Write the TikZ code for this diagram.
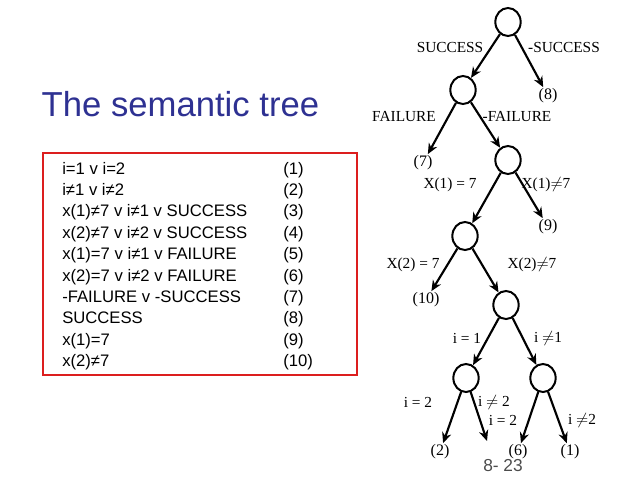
\documentclass[tikz,border=0pt]{standalone}
\usepackage{fontspec}
\setmainfont{Liberation Serif}
\newfontfamily\sansf{Liberation Sans}
\usetikzlibrary{arrows.meta,shapes.geometric}
\definecolor{titleblue}{RGB}{46,49,146}
\definecolor{boxred}{RGB}{220,30,30}
\begin{document}
\begin{tikzpicture}[x=0.75pt,y=-0.75pt,
  st/.style={draw,ellipse,minimum width=19pt,minimum height=21pt,inner sep=0pt,line width=1.5pt},
  leaf/.style={font=\fontsize{12}{13}\selectfont,inner sep=1pt},
  lab/.style={font=\fontsize{11.5}{13}\selectfont,inner sep=0pt},
  ar/.style={-{Stealth[length=8pt,width=7pt]},line width=1.6pt},
  row/.style={font=\sansf\fontsize{12.5}{14}\selectfont,anchor=base west,inner sep=0pt}]
\useasboundingbox (0,0) rectangle (638,478);
\node[font=\sansf\fontsize{26}{28}\selectfont,text=titleblue,anchor=west] (title) at (37,104) {The semantic tree};
\draw[boxred,line width=1pt] (43,153) rectangle (357,375);
\foreach \t/\n [count=\k] in {i=1 v i=2/(1), i≠1 v i≠2/(2), x(1)≠7 v i≠1 v SUCCESS/(3), x(2)≠7 v i≠2 v SUCCESS/(4), x(1)=7 v i≠1 v FAILURE/(5), x(2)=7 v i≠2 v FAILURE/(6), -FAILURE v -SUCCESS/(7), SUCCESS/(8), x(1)=7/(9), x(2)≠7/(10)}{
  \node[row] (r\k) at (62,{174+21.4*(\k-1)}) {\t};
  \node[row] (n\k) at (283,{174+21.4*(\k-1)}) {\n};
}
\node[st] (a) at (508,22) {};
\node[st] (b) at (463,90) {};
\node[st] (c) at (508,160) {};
\node[st] (d) at (465,236) {};
\node[st] (e) at (506,305) {};
\node[st] (f) at (466,378) {};
\node[st] (g) at (543,378) {};
\node[leaf] (l8) at (548,96) {(8)};
\node[leaf] (l7) at (423,163) {(7)};
\node[leaf] (l9) at (548,227) {(9)};
\node[leaf] (l10) at (426,300) {(10)};
\node[leaf] (l2) at (440,452) {(2)};
\node[leaf] (l6) at (518,452) {(6)};
\node[leaf] (l1) at (570,452) {(1)};
\coordinate (x) at (487,441);
\draw[ar] (a) -- (b); \draw[ar] (a) -- (l8);
\draw[ar] (b) -- (l7); \draw[ar] (b) -- (c);
\draw[ar] (c) -- (d); \draw[ar] (c) -- (l9);
\draw[ar] (d) -- (l10); \draw[ar] (d) -- (e);
\draw[ar] (e) -- (f); \draw[ar] (e) -- (g);
\draw[ar] (f) -- (l2); \draw[ar] (f) -- (x);
\draw[ar] (g) -- (l6); \draw[ar] (g) -- (l1);
\node[lab] at (450,47) {SUCCESS};
\node[lab] at (564,47) {-SUCCESS};
\node[lab] at (404,117) {FAILURE};
\node[lab] at (517,117) {-FAILURE};
\node[lab] at (450,185) {X(1) = 7};
\node[lab] at (546,185) {X(1)$\neq$7};
\node[lab] at (413,265) {X(2) = 7};
\node[lab] at (532,265) {X(2)$\neq$7};
\node[lab] at (467,338) {i = 1};
\node[lab] at (548,338) {i $\neq$1};
\node[lab] at (418,402) {i = 2};
\node[lab] at (494,402) {i $\neq$ 2};
\node[lab] at (503,420) {i = 2};
\node[lab] at (582,420) {i $\neq$2};
\node[font=\sansf\fontsize{13}{14}\selectfont,text=black!70] (pg) at (503,466) {8- 23};
\end{tikzpicture}
\end{document}
